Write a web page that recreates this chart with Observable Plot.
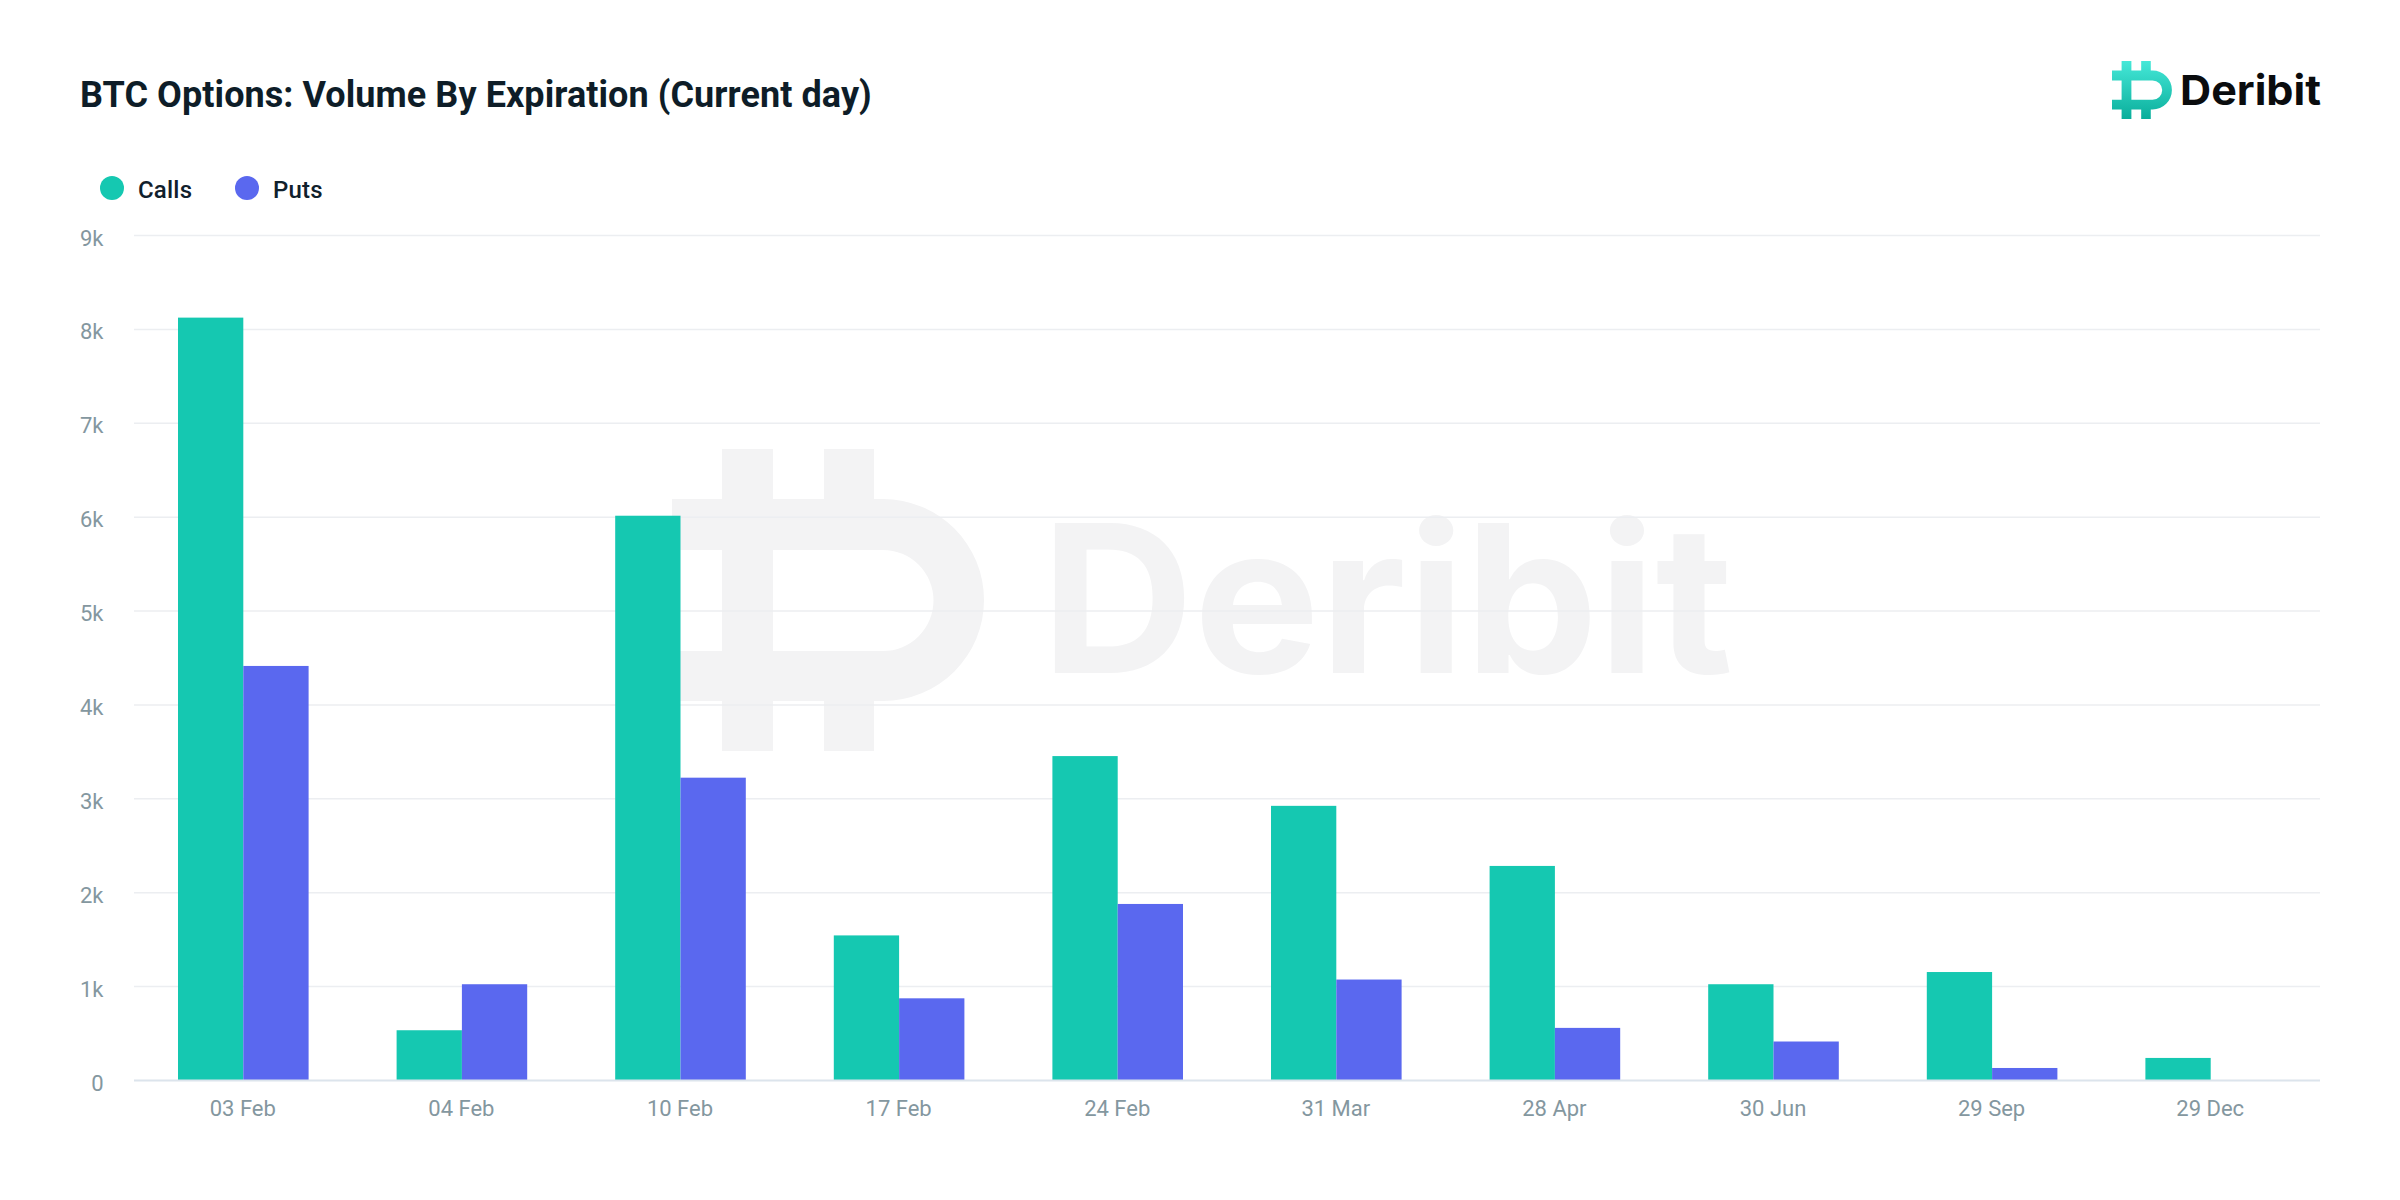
<!DOCTYPE html>
<html>
<head>
<meta charset="utf-8">
<script src="https://cdn.jsdelivr.net/npm/d3@7"></script>
<script src="https://cdn.jsdelivr.net/npm/@observablehq/plot@0.6"></script>
<style>
  html, body { margin: 0; padding: 0; background: #fff; }
  #page { position: relative; width: 2400px; height: 1200px; overflow: hidden; font-family: Roboto, sans-serif; }
  #header { position: relative; height: 215px; z-index: 2; }
  #title { position: absolute; left: 80px; top: 73px; font-size: 36px; letter-spacing: 0.07px; line-height: 44px; font-weight: 700; color: #0e1d28; white-space: nowrap; margin: 0; }
  .sw { position: absolute; top: 176px; width: 24px; height: 24px; border-radius: 50%; }
  .lg { position: absolute; top: 175px; font-size: 24px; line-height: 30px; font-weight: 500; letter-spacing: 0.2px; color: #10202c; }
  #art { position: absolute; left: 0; top: 0; z-index: 0; }
  #chart { position: relative; z-index: 1; }
  #chart svg { display: block; background: transparent; }
</style>
</head>
<body>
<div id="page">
  <svg id="art" width="2400" height="1200" viewBox="0 0 2400 1200">
    <defs>
      <linearGradient id="logoGrad" x1="0" y1="0" x2="0" y2="1">
        <stop offset="0" stop-color="#45e8d8"/>
        <stop offset="1" stop-color="#0aae9b"/>
      </linearGradient>
      <path id="glyph" fill-rule="evenodd" d="M50 0H101V50H152V0H202V50H211A101 101 0 0 1 211 252H202V302H152V252H101V302H50V252H0V202H50V101H0V50H50ZM101 101V202H211A50.5 50.5 0 0 0 211 101Z"/>
    </defs>
    <use href="#glyph" transform="translate(672 449)" fill="#f3f3f4"/>
    <text x="1041" y="673" font-family="Inter" font-weight="700" font-size="206" fill="#f3f3f4" textLength="692" lengthAdjust="spacingAndGlyphs">Deribit</text>
    <use href="#glyph" transform="translate(2112 61) scale(0.192)" fill="url(#logoGrad)"/>
    <text x="2180" y="105" font-family="Inter" font-weight="700" font-size="41" fill="#0a0c0e" textLength="141" lengthAdjust="spacingAndGlyphs">Deribit</text>
  </svg>
  <div id="header">
    <h1 id="title">BTC Options: Volume By Expiration (Current day)</h1>
    <span class="sw" style="left:100px;background:#15c8b1"></span>
    <span class="lg" style="left:138px">Calls</span>
    <span class="sw" style="left:235px;background:#5a68ef"></span>
    <span class="lg" style="left:273px">Puts</span>
  </div>
  <div id="chart"></div>
</div>
<script>
const expirations = ["03 Feb","04 Feb","10 Feb","17 Feb","24 Feb","31 Mar","28 Apr","30 Jun","29 Sep","29 Dec"];
const calls = [8120, 530, 6010, 1540, 3450, 2920, 2280, 1020, 1150, 235];
const puts  = [4410, 1020, 3220, 870, 1875, 1070, 555, 410, 128, 0];
const yTicks = [0,1000,2000,3000,4000,5000,6000,7000,8000,9000];
const yLabels = ["0","1k","2k","3k","4k","5k","6k","7k","8k","9k"];

const callRows = expirations.map((d, i) => ({date: d, value: calls[i]}));
const putRows  = expirations.map((d, i) => ({date: d, value: puts[i]}));

const plot = Plot.plot({
  width: 2400,
  height: 985,
  marginLeft: 134,
  marginRight: 80,
  marginTop: 20,
  marginBottom: 120,
  style: {fontFamily: "Roboto, sans-serif", background: "transparent"},
  x: {domain: expirations, padding: 0, round: false, label: null},
  y: {domain: [0, 9000], label: null},
  marks: [
    Plot.ruleY(yTicks.slice(1), {stroke: "#eceef1", strokeWidth: 1.5}),
    Plot.barY(callRows, {x: "date", y: "value", fill: "#15c8b1", insetLeft: 44, insetRight: 109.3}),
    Plot.barY(putRows,  {x: "date", y: "value", fill: "#5a68ef", insetLeft: 109.3, insetRight: 44}),
    Plot.ruleY([0], {stroke: "#dce4ec", strokeWidth: 2}),
    Plot.axisY({ticks: yTicks, tickFormat: (d, i) => yLabels[i], tickSize: 0, tickPadding: 31, fontSize: 22, color: "#84979f", dy: 3, label: null}),
    Plot.axisX({tickSize: 0, tickPadding: 20, fontSize: 22, color: "#84979f", dx: -1, label: null})
  ]
});
document.getElementById("chart").appendChild(plot);
</script>
</body>
</html>
